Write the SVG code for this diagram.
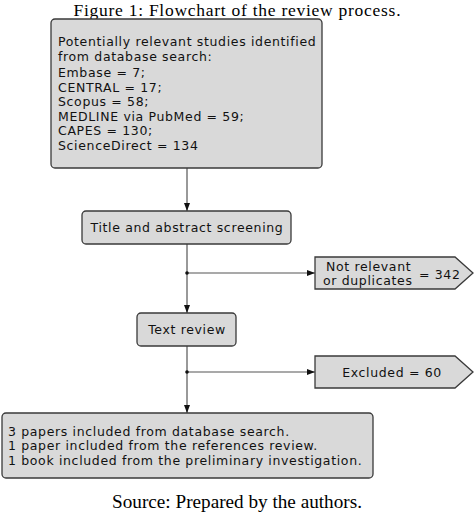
<svg xmlns="http://www.w3.org/2000/svg" width="474" height="512" viewBox="0 0 474 512">
<style>
.cap{font-family:"Liberation Serif",serif;font-size:19.2px;fill:#000;text-anchor:middle}
.box{fill:#d9d9d9;stroke:#3a3a3a;stroke-width:1.3}
.t{font-family:"DejaVu Sans",sans-serif;font-size:12.5px;letter-spacing:0.65px;fill:#111}
.c{text-anchor:middle}
.ln{stroke:#555;stroke-width:1.2;fill:none}
</style>
<defs>
<marker id="ah" viewBox="0 0 8 6" refX="8" refY="3" markerWidth="8" markerHeight="6" markerUnits="userSpaceOnUse" orient="auto">
<path d="M0,0 L8,3 L0,6 z" fill="#111"/>
</marker>
</defs>
<rect width="474" height="512" fill="#fff"/>
<text class="cap" x="237" y="16" style="font-size:17.5px" textLength="327" lengthAdjust="spacing">Figure 1: Flowchart of the review process.</text>
<g id="connectors">
<line class="ln" x1="187" y1="168" x2="187" y2="211" marker-end="url(#ah)"/>
<line class="ln" x1="187" y1="244" x2="187" y2="313" marker-end="url(#ah)"/>
<line class="ln" x1="187" y1="273" x2="315" y2="273" marker-end="url(#ah)"/>
<circle cx="187" cy="273" r="1.8" fill="#111"/>
<line class="ln" x1="187" y1="346" x2="187" y2="413" marker-end="url(#ah)"/>
<line class="ln" x1="187" y1="372" x2="315" y2="372" marker-end="url(#ah)"/>
<circle cx="187" cy="372" r="1.8" fill="#111"/>
</g>
<g id="n1">
<rect class="box" x="51" y="19" width="271" height="149" rx="4"/>
<text class="t" x="58" y="46">Potentially relevant studies identified</text>
<text class="t" x="58" y="61">from database search:</text>
<text class="t" x="58" y="77">Embase = 7;</text>
<text class="t" x="58" y="92">CENTRAL = 17;</text>
<text class="t" x="58" y="106">Scopus = 58;</text>
<text class="t" x="58" y="121">MEDLINE via PubMed = 59;</text>
<text class="t" x="58" y="135">CAPES = 130;</text>
<text class="t" x="58" y="150">ScienceDirect = 134</text>
</g>
<g id="n2">
<rect class="box" x="82" y="211" width="209" height="33" rx="4"/>
<text class="t c" x="187" y="232">Title and abstract screening</text>
</g>
<g id="n3">
<path class="box" d="M315,257 H455 L473,273 L455,289 H315 Z"/>
<text class="t" x="326" y="271">Not relevant</text>
<text class="t" x="323" y="285">or duplicates</text>
<text class="t" x="419" y="279">= 342</text>
</g>
<g id="n4">
<rect class="box" x="137" y="313" width="99" height="33" rx="4"/>
<text class="t c" x="187" y="334">Text review</text>
</g>
<g id="n5">
<path class="box" d="M315,356 H455 L473,372 L455,388 H315 Z"/>
<text class="t c" x="392" y="377">Excluded = 60</text>
</g>
<g id="n6">
<rect class="box" x="2" y="413" width="371" height="65" rx="4"/>
<text class="t" x="8" y="436">3 papers included from database search.</text>
<text class="t" x="8" y="450">1 paper included from the references review.</text>
<text class="t" x="8" y="465">1 book included from the preliminary investigation.</text>
</g>
<text class="cap" x="237" y="508">Source: Prepared by the authors.</text>
</svg>
